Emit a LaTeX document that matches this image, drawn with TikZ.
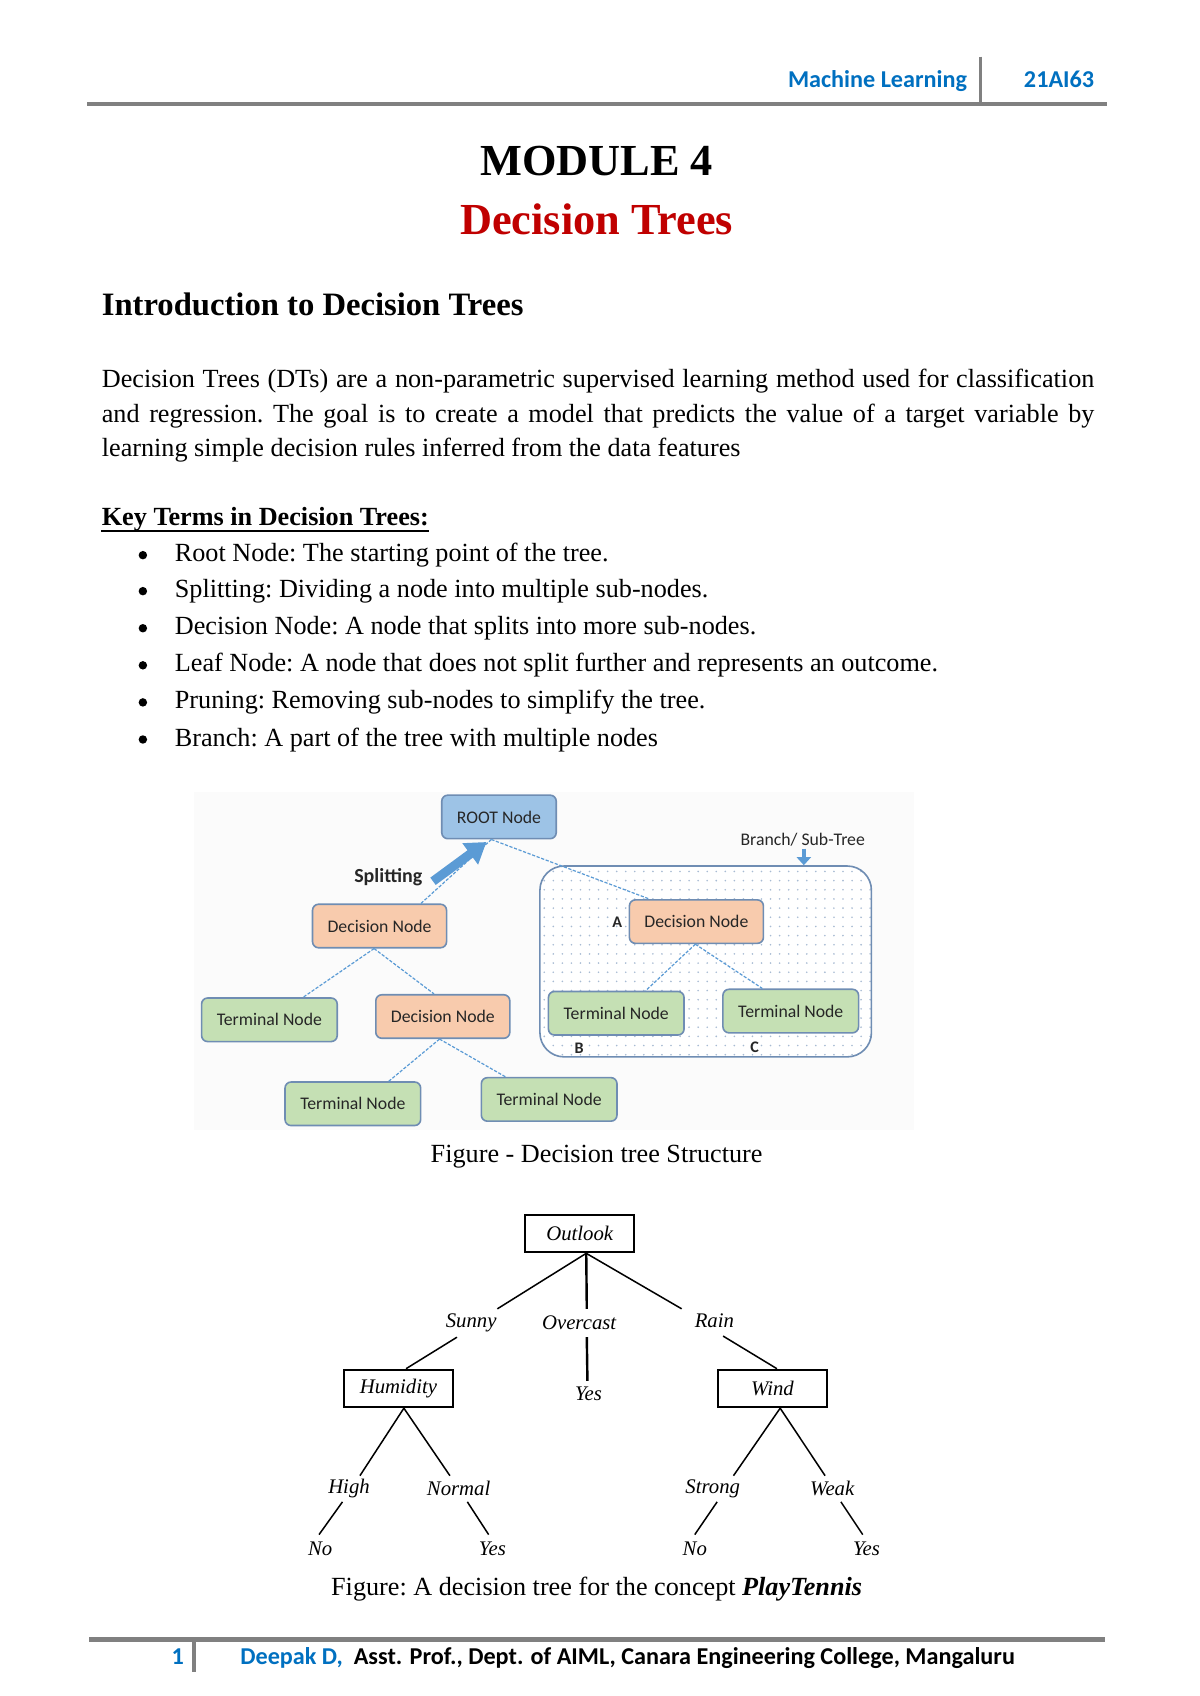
\documentclass[tikz,border=0pt]{standalone}
\usepackage{fontspec}
\setmainfont{Liberation Serif}
\newfontfamily\calib{Carlito}
\usetikzlibrary{arrows.meta,calc}
\definecolor{hblue}{HTML}{0070C0}
\definecolor{hgray}{HTML}{808080}
\definecolor{tred}{HTML}{C00000}
\definecolor{rootf}{HTML}{9DC3E6}
\definecolor{decf}{HTML}{F8CBAD}
\definecolor{termf}{HTML}{C5E0B4}
\definecolor{bord}{HTML}{6F8DB3}
\definecolor{conn}{HTML}{5B9BD5}
\definecolor{dotc}{HTML}{A8BBD3}
\definecolor{ntext}{HTML}{262626}
\begin{document}
\begin{tikzpicture}[x=0.5412pt,y=-0.5412pt,
  fbox/.style={draw=bord, line width=0.8pt, rounded corners=3pt, minimum height=21.6pt, inner sep=0pt, font=\calib\fontsize{8.8}{10}\selectfont, text=ntext},
  rootbox/.style={fbox, fill=rootf, minimum width=56.8pt},
  decbox/.style={fbox, fill=decf, minimum width=66.5pt},
  termbox/.style={fbox, fill=termf, minimum width=67.3pt},
  conline/.style={conn, line width=0.6pt, dash pattern=on 1.6pt off 0.8pt},
  tbox/.style={draw, line width=1.2pt, minimum width=54pt, minimum height=18.4pt, inner sep=0pt, font=\fontsize{10.3}{12}\selectfont\itshape},
  tlab/.style={inner sep=0pt, font=\fontsize{10.3}{12}\selectfont\itshape},
  tline/.style={line width=0.75pt},
  body/.style={inner sep=0pt, anchor=base west, font=\fontsize{13}{15}\selectfont\frenchspacing},
  foot/.style={inner sep=0pt, font=\calib\bfseries\fontsize{12}{14}\selectfont},
  flab/.style={inner sep=0pt, text=ntext},
]
\fill[white] (0,0) rectangle (1100,1555);
\useasboundingbox (0,0) rectangle (1100,1555);

% header
\node[foot, anchor=base east, text=hblue] (hml) at (887,80) {Machine Learning};
\node[foot, anchor=base, text=hblue] (hcode) at (971,80) {21AI63};
\draw[hgray, line width=1.7pt] (899,52) -- (899,95);
\draw[hgray, line width=2.2pt] (80,95.5) -- (1015,95.5);

% titles
\node[inner sep=0pt, anchor=base, font=\bfseries\fontsize{22}{26}\selectfont] (mod) at (547,161) {MODULE 4};
\node[inner sep=0pt, anchor=base, text=tred, font=\bfseries\fontsize{22}{26}\selectfont] (dtt) at (547,215) {Decision Trees};
\node[inner sep=0pt, anchor=base west, font=\bfseries\fontsize{16.2}{20}\selectfont] (intro) at (93,289) {Introduction to Decision Trees};

% paragraph
\node[body] (p1) at (93,355) {\makebox[492.5pt][s]{Decision Trees (DTs) are a non-parametric supervised learning method used for classification}};
\node[body] (p2) at (93,387) {\makebox[492.5pt][s]{and regression. The goal is to create a model that predicts the value of a target variable by}};
\node[body] (p3) at (93,419) {learning simple decision rules inferred from the data features};

% key terms
\node[body, font=\bfseries\fontsize{13}{15}\selectfont] (kt) at (93,482) {Key Terms in Decision Trees:};
\draw[line width=1.1pt] ($(kt.base west)+(0,5)$) -- ($(kt.base east)+(0,5)$);
\foreach \yy/\tx [count=\k] in {515/{Root Node: The starting point of the tree.},
  548/{Splitting: Dividing a node into multiple sub-nodes.},
  582/{Decision Node: A node that splits into more sub-nodes.},
  616/{Leaf Node: A node that does not split further and represents an outcome.},
  650/{Pruning: Removing sub-nodes to simplify the tree.},
  684/{Branch: A part of the tree with multiple nodes}}{
  \node[body] (bt\k) at (160,\yy) {\tx};
  \fill ($(bt\k.base west)+(-29,-6)$) circle (2.1pt);
}

% ---------- figure 1 ----------
\fill[black!1.5] (178,726) rectangle (838,1036);
\begin{scope}
  \clip[rounded corners=12pt] (495,794) rectangle (799,969);
  \fill[white] (495,794) rectangle (799,969);
  \foreach \i in {0,...,36}{\foreach \j in {0,...,20}{\fill[dotc] (499+\i*8.3, 799+\j*8.4) circle (0.45pt);}}
\end{scope}
\node[draw=bord, line width=0.8pt, rounded corners=12pt, minimum width=164.5pt, minimum height=94.7pt, inner sep=0pt] (branch) at (647,881.5) {};

\node[rootbox] (root) at (457.5,749) {ROOT Node};
\node[decbox] (dl) at (348,849) {Decision Node};
\node[decbox] (dr) at (638.5,845) {Decision Node};
\node[decbox] (dm) at (406,932) {Decision Node};
\node[termbox] (tl) at (247,935) {Terminal Node};
\node[termbox] (tbl) at (323.5,1012) {Terminal Node};
\node[termbox] (tbr) at (503.5,1008) {Terminal Node};
\node[termbox] (tb) at (565,929) {Terminal Node};
\node[termbox] (tc) at (725,927) {Terminal Node};

\node[flab, font=\calib\bfseries\fontsize{9.9}{11}\selectfont] (splitlab) at (356,804) {Splitting};
\node[flab, font=\calib\fontsize{8.8}{10}\selectfont] (brlab) at (736,770) {Branch/ Sub-Tree};
\node[flab, font=\calib\bfseries\fontsize{8}{10}\selectfont] (la) at (566,846) {A};
\node[flab, font=\calib\bfseries\fontsize{8}{10}\selectfont] (lb) at (531,961) {B};
\node[flab, font=\calib\bfseries\fontsize{8}{10}\selectfont] (lc) at (692,960) {C};

\draw[conline] ($(root.south)+(-7,0)$) -- ($(dl.north)+(38,0)$);
\draw[conline] ($(root.south)+(-7,0)$) -- ($(dr.north)+(-43,0)$);
\draw[conline] ($(dl.south)+(-5,0)$) -- ($(tl.north)+(31,0)$);
\draw[conline] ($(dl.south)+(-5,0)$) -- ($(dm.north)+(-8,0)$);
\draw[conline] ($(dm.south)+(-3,0)$) -- ($(tbl.north)+(33,0)$);
\draw[conline] ($(dm.south)+(-3,0)$) -- ($(tbr.north)+(-40,0)$);
\draw[conline] ($(dr.south)+(-1,0)$) -- ($(tb.north)+(27,0)$);
\draw[conline] ($(dr.south)+(-1,0)$) -- ($(tc.north)+(-26,0)$);

\coordinate (sa) at (397,808);
\coordinate (sb) at (446,772);
\draw[conn, line width=4.5pt, -{Triangle[length=10pt,width=12.5pt]}] (sa) -- (sb);
\coordinate (ba) at (737,778);
\draw[conn, line width=2.3pt, -{Triangle[length=4pt,width=7pt]}] (ba) -- (branch.north -| ba);

\node[body, anchor=base] (cap1) at (547,1066) {Figure - Decision tree Structure};

% ---------- figure 2 ----------
\node[tbox] (O) at (531.5,1131) {Outlook};
\node[tbox] (H) at (365.3,1273) {Humidity};
\node[tbox] (W) at (708.3,1273) {Wind};
\node[tlab] (S) at (432,1213) {Sunny};
\node[tlab] (V) at (531,1213) {Overcast};
\node[tlab] (R) at (655,1211) {Rain};
\node[tlab] (Y1) at (539.6,1278) {Yes};
\node[tlab] (Hi) at (320,1365) {High};
\node[tlab] (Nm) at (420.5,1365) {Normal};
\node[tlab] (St) at (653.5,1365) {Strong};
\node[tlab] (Wk) at (763,1365) {Weak};
\node[tlab] (N1) at (293.5,1420) {No};
\node[tlab] (Y2) at (451.5,1420) {Yes};
\node[tlab] (N2) at (637,1420) {No};
\node[tlab] (Y3) at (794.5,1420) {Yes};

\draw[tline] ($(O.south)+(6,0)$) -- ($(S)+(24,-13)$);
\draw[tline, line width=1.2pt] ($(O.south)+(6,0)$) -- ($(V)+(7,-13)$);
\draw[tline] ($(O.south)+(6,0)$) -- ($(R)+(-30,-11)$);
\draw[tline] ($(S)+(-13,13)$) -- ($(H.north)+(7,0)$);
\draw[tline, line width=1.2pt] ($(V)+(7,13)$) -- ($(Y1)+(-1,-12)$);
\draw[tline] ($(R)+(8,14)$) -- ($(W.north)+(4,0)$);
\draw[tline] ($(H.south)+(5,0)$) -- ($(Hi)+(10,-12)$);
\draw[tline] ($(H.south)+(5,0)$) -- ($(Nm)+(-8,-12)$);
\draw[tline] ($(Hi)+(-6,12)$) -- ($(N1)+(-1,-13)$);
\draw[tline] ($(Nm)+(8,12)$) -- ($(Y2)+(-3.5,-13)$);
\draw[tline] ($(W.south)+(7,0)$) -- ($(St)+(19,-12)$);
\draw[tline] ($(W.south)+(7,0)$) -- ($(Wk)+(-6.5,-12)$);
\draw[tline] ($(St)+(4,12)$) -- ($(N2)+(0,-13)$);
\draw[tline] ($(Wk)+(8,12)$) -- ($(Y3)+(-3.5,-13)$);

\node[body, anchor=base] (cap2) at (547,1463) {Figure: A decision tree for the concept \textbf{\textit{PlayTennis}}};

% footer
\draw[hgray, line width=2.2pt] (82,1503) -- (1013,1503);
\draw[hgray, line width=1.7pt] (178,1503) -- (178,1533);
\node[foot, anchor=base east, text=hblue] (pg) at (169,1526) {1};
\node[foot, anchor=base west] (author) at (220,1526) {\textcolor{hblue}{Deepak D,}\ \ Asst. Prof., Dept. of AIML, Canara Engineering College, Mangaluru};
\end{tikzpicture}
\end{document}
